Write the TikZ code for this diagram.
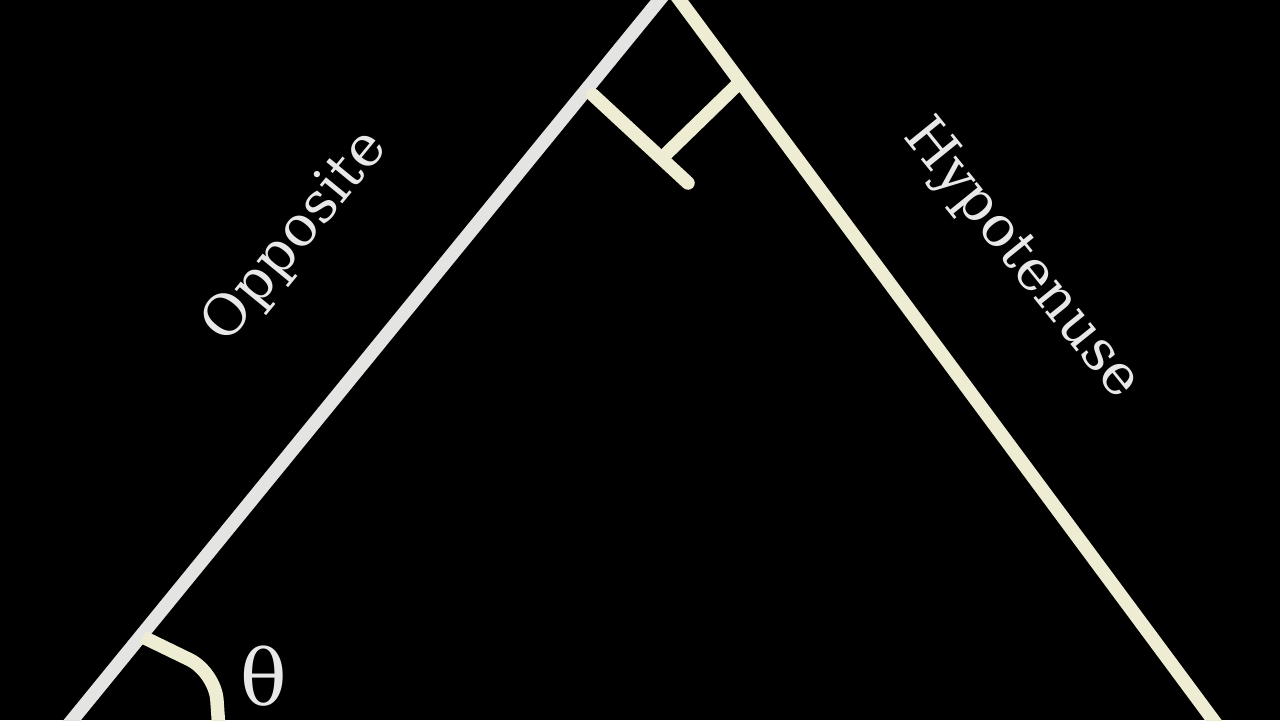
\documentclass[tikz,border=0pt]{standalone}
\usepackage{fontspec}
\setmainfont{DejaVu Serif}
\definecolor{sidegray}{HTML}{E4E4E2}
\definecolor{cream}{HTML}{EEEDD3}
\definecolor{labelgray}{HTML}{E8E8E8}
\tikzset{
  side/.style={line width=.135cm},
  sidelabel/.style={text=labelgray,inner sep=0pt,font=\fontsize{16}{18}\selectfont}
}
\begin{document}
\begin{tikzpicture}[x=.01cm,y=-.01cm]
  \fill [black] (0,0) rectangle (1280,720);
  \useasboundingbox (0,0) rectangle (1280,720);
  \clip (0,0) rectangle (1280,720);
  \coordinate (apex) at (670,-13);
  \coordinate (baseL) at (56,740);
  \coordinate (baseR) at (1228,740);
  \draw [side,draw=sidegray] (baseL) -- (apex);
  \draw [side,draw=cream] (apex) -- (baseR);
  % right angle mark
  \coordinate (sqA) at (593,95);
  \coordinate (sqB) at (688,183);
  \coordinate (sqC) at (737,85);
  \coordinate (sqD) at (665,155);
  \draw [side,draw=cream,line cap=round] (sqA) -- (sqB);
  \draw [side,draw=cream] (sqC) -- (sqD);
  % angle theta
  \coordinate (arcA) at (143,637);
  \coordinate (arcB) at (215,672);
  \coordinate (arcC) at (219,730);
  \draw [side,draw=cream,rounded corners=.28cm] (arcA) -- (arcB) -- (arcC);
  \node [text=labelgray,inner sep=0pt,font=\fontsize{22}{24}\selectfont] (theta) at (264,676) {θ};
  \node [sidelabel,rotate=50.6] (opp) at (296,237) {Opposite};
  \node [sidelabel,rotate=-51] (hyp) at (1021,260) {Hypotenuse};
\end{tikzpicture}
\end{document}
